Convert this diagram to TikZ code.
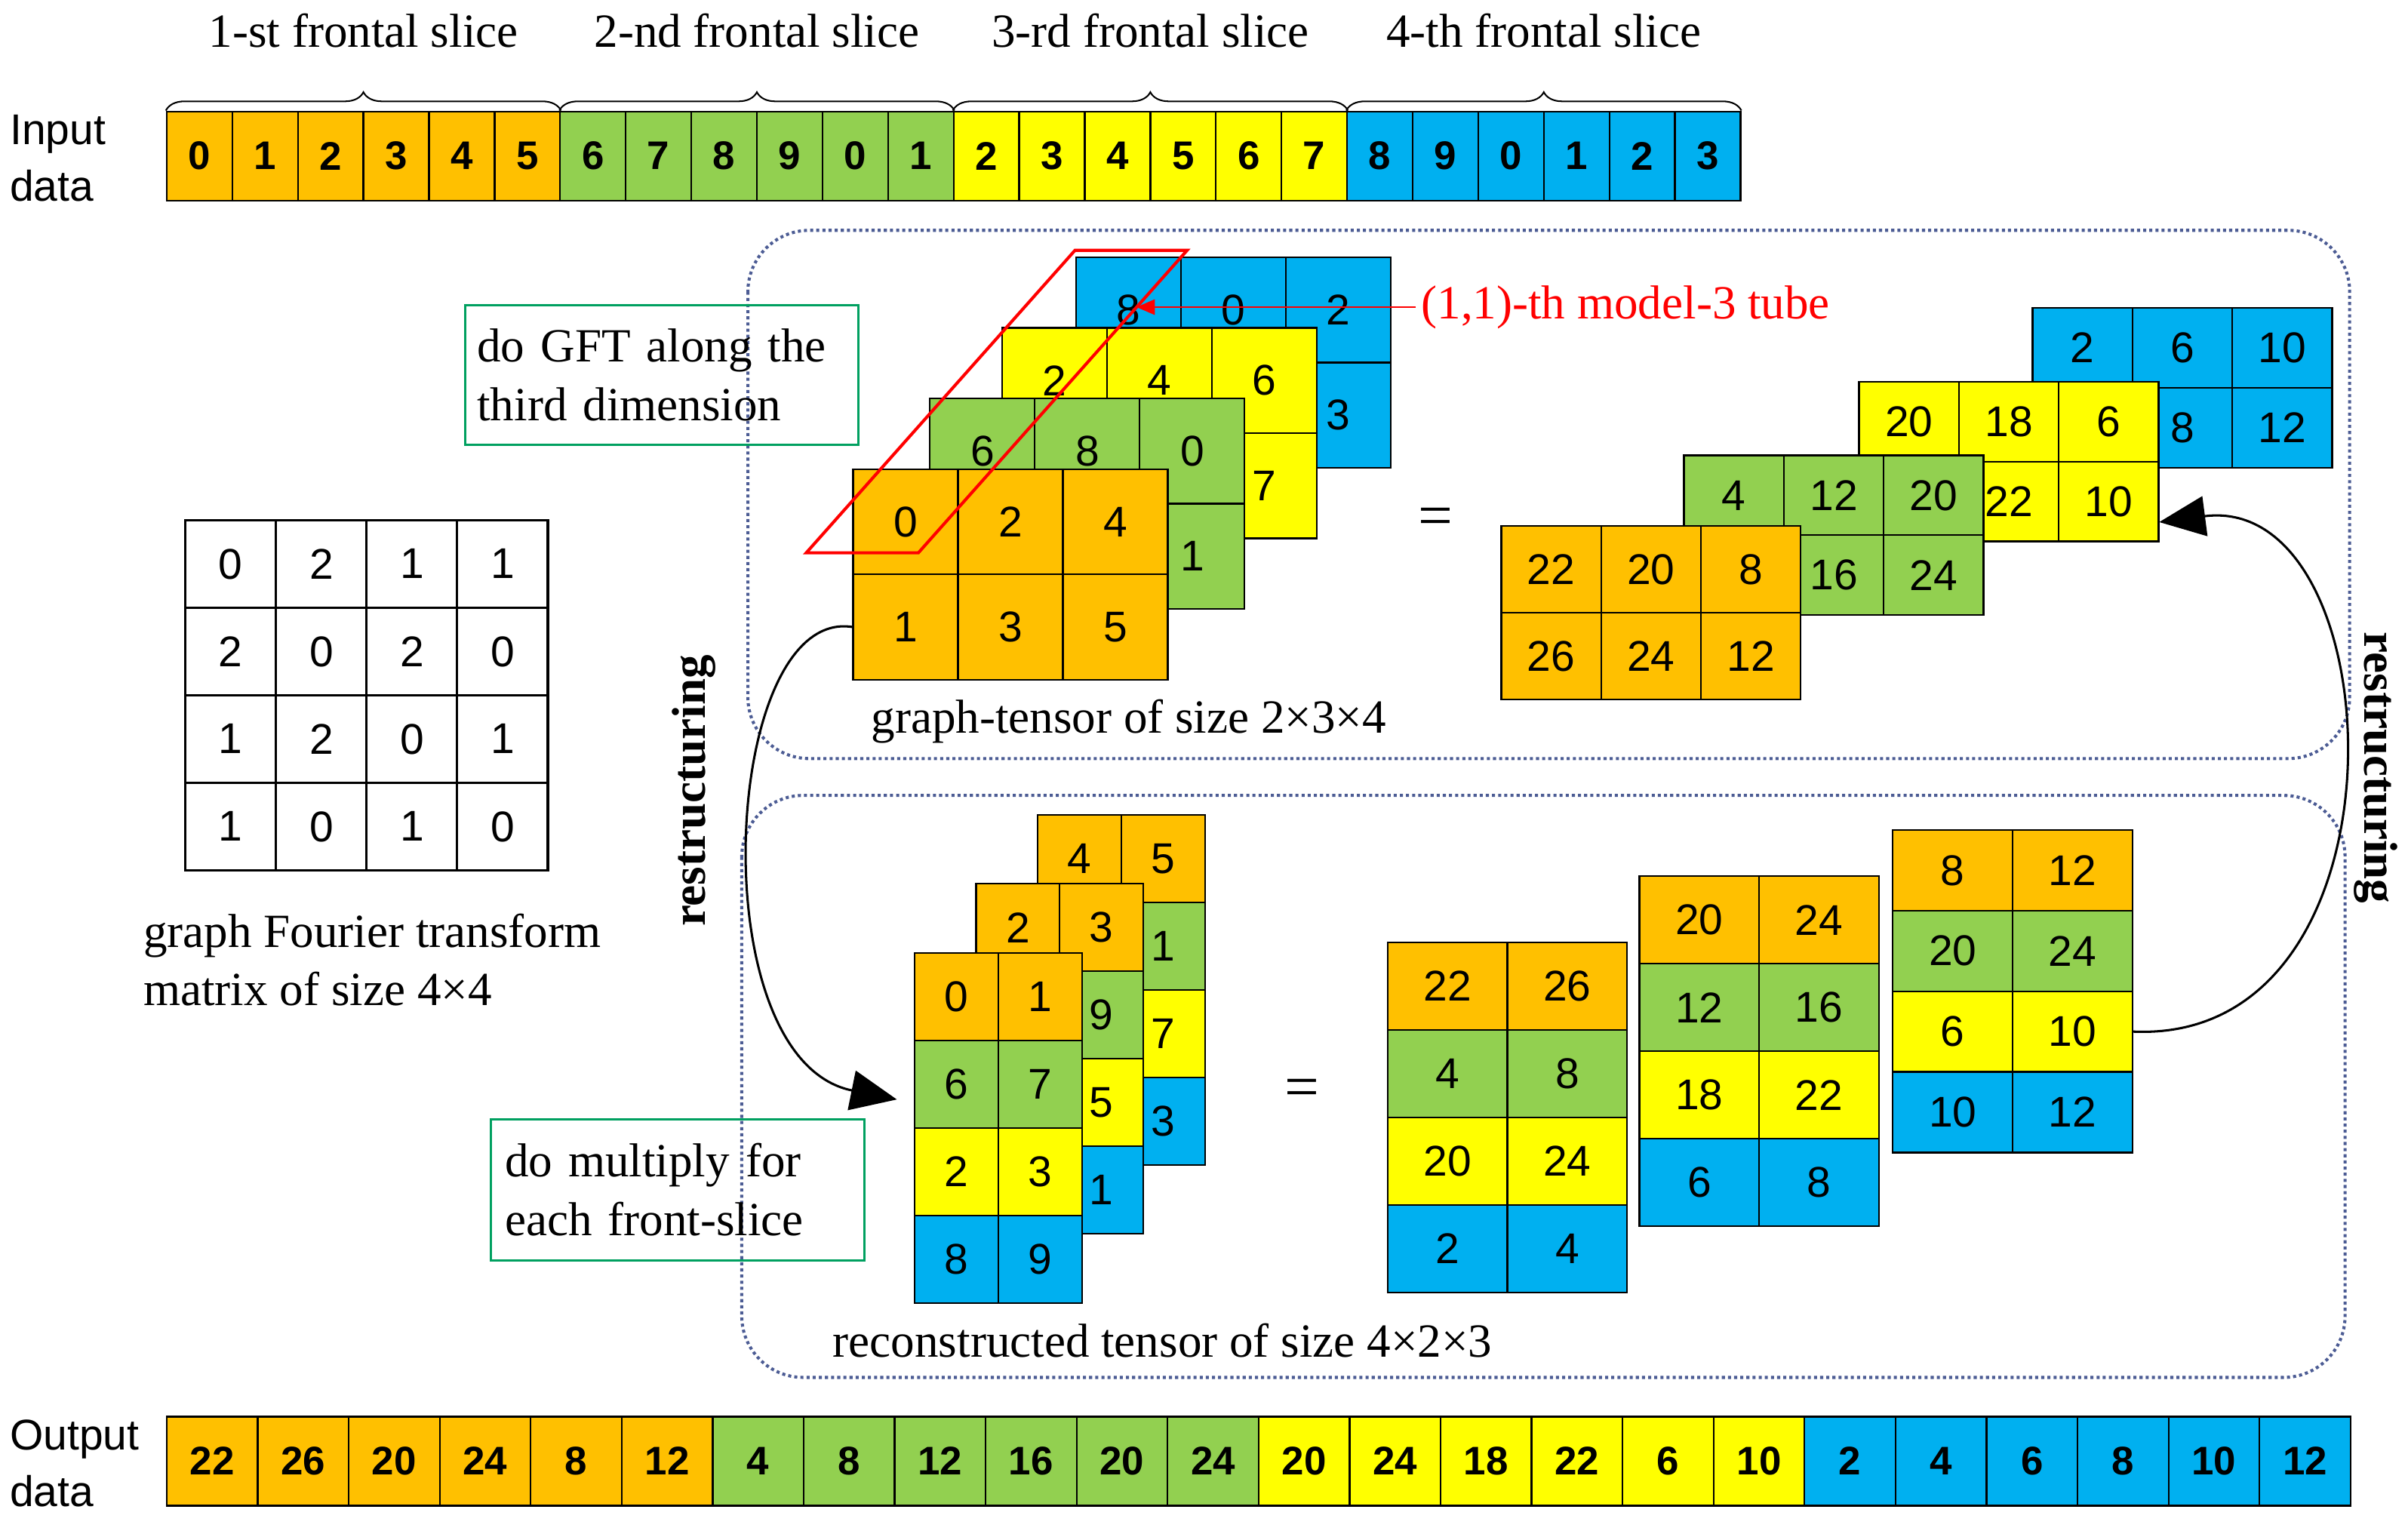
\documentclass[tikz,border=0pt]{standalone}
\usepackage{fontspec}
\setmainfont{Liberation Serif}
\newfontfamily\sansf{Liberation Sans}
\usetikzlibrary{decorations.pathreplacing,arrows.meta}
\definecolor{O}{HTML}{FFC000}
\definecolor{G}{HTML}{92D050}
\definecolor{Y}{HTML}{FFFF00}
\definecolor{B}{HTML}{00B0F0}
\definecolor{dotc}{rgb}{0.3,0.36,0.58}
\definecolor{boxg}{HTML}{00A060}
\newcommand\fs[1]{\fontsize{#1}{#1}\selectfont}
\newcommand\fsl{\fontsize{31}{38}\selectfont}
% #1 prefix, #2 x0, #3 y0, #4 w, #5 h, #6 list c/r/v/colour
\newcommand\mycells[6]{%
  \foreach \c/\r/\v/\cl in {#6}
    \node[cell,fill=\cl,minimum width=#4pt,minimum height=#5pt] (#1-\r-\c) at ({#2+(\c-1)*#4},{#3+(\r-1)*#5}) {\v};}
\begin{document}
\begin{tikzpicture}[x=1pt,y=-1pt,
  cell/.style={draw,line width=1.1pt,anchor=north west,inner sep=0pt,font=\sansf\fs{28}},
  row/.style={cell,font=\sansf\bfseries\fs{26}},
  lab/.style={font=\fsl},
  note/.style={draw=boxg,line width=1.5pt,anchor=north west,inner sep=0pt,align=left,font=\fsl},
  dotbox/.style={draw=dotc,dotted,line width=2pt,rounded corners=40pt},
  cur/.style={line width=1.5pt,-{Triangle[length=30pt,width=26pt]}}]
\useasboundingbox (0,0) rectangle (1568,998.5);
% input row
\foreach \v/\cl [count=\i] in {0/O,1/O,2/O,3/O,4/O,5/O,6/G,7/G,8/G,9/G,0/G,1/G,2/Y,3/Y,4/Y,5/Y,6/Y,7/Y,8/B,9/B,0/B,1/B,2/B,3/B}
  \node[row,fill=\cl,minimum width=42.7pt,minimum height=58pt] (in\i) at ({108+(\i-1)*42.7},72) {\v};
\node[font=\sansf\fontsize{28}{37}\selectfont,align=left,anchor=west] (inlab) at (3,103) {Input\\data};
\foreach \a/\b/\t [count=\k] in {1/6/1-st,7/12/2-nd,13/18/3-rd,19/24/4-th}{
  \draw[line width=1pt,decorate,decoration={brace,amplitude=12pt}] (in\a.north west) -- (in\b.north east) coordinate[midway] (bm\k);
  \node[lab] (br\k) at ([yshift=52pt]bm\k) {\t\ frontal slice};}
% output row
\foreach \v/\cl [count=\i] in {22/O,26/O,20/O,24/O,8/O,12/O,4/G,8/G,12/G,16/G,20/G,24/G,20/Y,24/Y,18/Y,22/Y,6/Y,10/Y,2/B,4/B,6/B,8/B,10/B,12/B}
  \node[row,fill=\cl,minimum width=59.25pt,minimum height=58pt] (out\i) at ({108+(\i-1)*59.25},922) {\v};
\node[font=\sansf\fontsize{28}{37}\selectfont,align=left,anchor=west] (outlab) at (3,953) {Output\\data};
% dotted boxes
\draw[dotbox] (487,150) rectangle (1530,494);
\draw[dotbox] (483,518) rectangle (1527,897);
% top tensor
\mycells{tb}{700}{167}{68.3}{68.5}{1/1/8/B,2/1/0/B,3/1/2/B,1/2/9/B,2/2/1/B,3/2/3/B}
\mycells{ty}{652}{213}{68.3}{68.5}{1/1/2/Y,2/1/4/Y,3/1/6/Y,1/2/3/Y,2/2/5/Y,3/2/7/Y}
\mycells{tg}{605}{259}{68.3}{68.5}{1/1/6/G,2/1/8/G,3/1/0/G,1/2/7/G,2/2/9/G,3/2/1/G}
\mycells{to}{555}{305}{68.3}{68.5}{1/1/0/O,2/1/2/O,3/1/4/O,1/2/1/O,2/2/3/O,3/2/5/O}
\coordinate (p1) at (525,360); \coordinate (p2) at (598,360);
\coordinate (p3) at (773,163); \coordinate (p4) at (700,163);
\draw[red,line width=2pt] (p1) -- (p2) -- (p3) -- (p4) -- cycle;
\node[lab,text=red,anchor=west] (tube) at (922,200) {(1,1)-th model-3 tube};
\coordinate (tubetip) at (740,200);
\draw[red,line width=1.2pt,-{Triangle[length=12pt,width=10pt]}] (tube.west) -- (tubetip);
\node[note,text width=240pt,minimum height=91pt,inner xsep=8pt] (gft) at (302,198) {do GFT along the\\third dimension};
\node[lab] (gtcap) at (735,470) {graph-tensor of size 2×3×4};
\node[font=\fs{40}] (eq1) at (935,340) {=};
% top result
\mycells{rb}{1323}{200}{65}{52}{1/1/2/B,2/1/6/B,3/1/10/B,1/2/4/B,2/2/8/B,3/2/12/B}
\mycells{ry}{1210}{248}{65}{52}{1/1/20/Y,2/1/18/Y,3/1/6/Y,1/2/24/Y,2/2/22/Y,3/2/10/Y}
\mycells{rg}{1096}{296}{65}{52}{1/1/4/G,2/1/12/G,3/1/20/G,1/2/8/G,2/2/16/G,3/2/24/G}
\mycells{ro}{977}{342}{65}{56.5}{1/1/22/O,2/1/20/O,3/1/8/O,1/2/26/O,2/2/24/O,3/2/12/O}
% matrix
\foreach \v [count=\i from 0] in {0,2,1,1,2,0,2,0,1,2,0,1,1,0,1,0}{
  \pgfmathtruncatemacro\rr{int(\i/4)}\pgfmathtruncatemacro\cc{mod(\i,4)}
  \node[cell,fill=white,minimum width=59pt,minimum height=57pt,line width=1.5pt] (m\i) at ({120+\cc*59},{338+\rr*57}) {\v};}
\node[lab,align=left,anchor=west] (mcap) at (90,625) {graph Fourier transform\\matrix of size 4×4};
% bottom stack
\mycells{s3}{675}{530}{54.5}{57}{1/1/4/O,2/1/5/O,1/2/0/G,2/2/1/G,1/3/6/Y,2/3/7/Y,1/4/2/B,2/4/3/B}
\mycells{s2}{635}{575}{54.5}{57}{1/1/2/O,2/1/3/O,1/2/8/G,2/2/9/G,1/3/4/Y,2/3/5/Y,1/4/0/B,2/4/1/B}
\mycells{s1}{595}{620}{54.5}{57}{1/1/0/O,2/1/1/O,1/2/6/G,2/2/7/G,1/3/2/Y,2/3/3/Y,1/4/8/B,2/4/9/B}
\node[font=\fs{40}] (eq2) at (848,712) {=};
\mycells{b1}{903}{613}{78}{57}{1/1/22/O,2/1/26/O,1/2/4/G,2/2/8/G,1/3/20/Y,2/3/24/Y,1/4/2/B,2/4/4/B}
\mycells{b2}{1067}{570}{78}{57}{1/1/20/O,2/1/24/O,1/2/12/G,2/2/16/G,1/3/18/Y,2/3/22/Y,1/4/6/B,2/4/8/B}
\mycells{b3}{1232}{540}{78}{52.5}{1/1/8/O,2/1/12/O,1/2/20/G,2/2/24/G,1/3/6/Y,2/3/10/Y,1/4/10/B,2/4/12/B}
\node[note,text width=225pt,minimum height=92pt,inner xsep=9pt] (mul) at (319,728) {do multiply for\\each front-slice};
\node[lab] (rccap) at (757,873) {reconstructed tensor of size 4×2×3};
% restructuring arrows
\coordinate (la) at (584,716);
\draw[cur] (to-2-1.west) .. controls (470,395) and (455,690) .. (la);
\coordinate (ra) at (1406,340);
\draw[cur] (b3-3-2.east) .. controls (1575,680) and (1560,320) .. (ra);
\node[font=\bfseries\fsl,rotate=90] (rs1) at (452,515) {restructuring};
\node[font=\bfseries\fsl,rotate=-90] (rs2) at (1547,500) {restructuring};
\end{tikzpicture}
\end{document}
